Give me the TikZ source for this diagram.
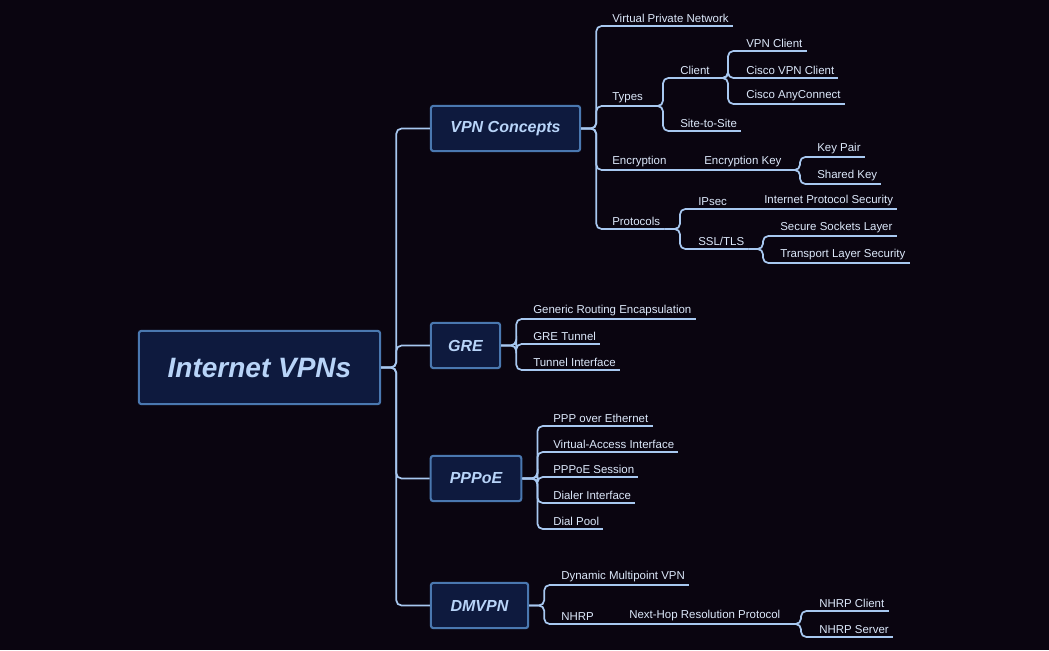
\documentclass[tikz,border=0pt]{standalone}
\usepackage{fontspec}
\setmainfont{Liberation Sans}
\definecolor{bg}{HTML}{0A0510}
\definecolor{ln}{HTML}{A8C8F0}
\definecolor{bx}{HTML}{0E1A3E}
\definecolor{bd}{HTML}{4A78B0}
\definecolor{tx}{HTML}{DCE8FA}
\definecolor{bt}{HTML}{B8D4F8}
\begin{document}
\begin{tikzpicture}[x=0.75pt,y=-0.75pt,
  conn/.style={draw=ln,line width=1.3pt,rounded corners=4pt},
  leaf/.style={anchor=south west,inner xsep=3pt,inner ysep=2.5pt,text=tx,font=\fontsize{8.6}{10}\selectfont,
    append after command={\pgfextra{\let\mynode\tikzlastnode}(\mynode.south west) edge[conn] (\mynode.south east)}},
  box/.style={draw=bd,fill=bx,line width=1.6pt,rounded corners=2pt,text=bt,font=\bfseries\itshape\fontsize{12}{14}\selectfont,minimum height=34pt}]
\useasboundingbox[fill=bg] (0,0) rectangle (1049,650);
\node[box,minimum width=181pt,minimum height=55pt,font=\bfseries\itshape\fontsize{21}{24}\selectfont] (root) at (259.5,367.5) {Internet VPNs};
\node[box,minimum width=112pt] (vc) at (505.5,128.5) {VPN Concepts};
\node[box,minimum width=52pt] (gre) at (465.5,345.5) {GRE};
\node[box,minimum width=68pt] (pp) at (476,478.5) {PPPoE};
\node[box,minimum width=73pt] (dm) at (479.5,605.5) {DMVPN};
% VPN concepts
\node[leaf] (vpn) at (608,26) {Virtual Private Network};
\node[leaf] (ty) at (608,106) {Types};
\node[leaf] (en) at (608,170) {Encryption};
\node[leaf] (pr) at (608,229) {Protocols};
\node[leaf] (cl) at (676,78) {Client};
\node[leaf] (s2s) at (676,131) {Site-to-Site};
\node[leaf] (vcl) at (742,51) {VPN Client};
\node[leaf] (cvc) at (742,78) {Cisco VPN Client};
\node[leaf] (cac) at (742,104) {Cisco AnyConnect};
\node[leaf] (ek) at (700,170) {Encryption Key};
\node[leaf] (kp) at (813,157) {Key Pair};
\node[leaf] (sk) at (813,184) {Shared Key};
\node[leaf] (ips) at (694,209) {IPsec};
\node[leaf] (ssl) at (694,249) {SSL/TLS};
\node[leaf] (ipsec) at (760,209) {Internet Protocol Security};
\node[leaf] (ssl1) at (776,236) {Secure Sockets Layer};
\node[leaf] (tls) at (776,263) {Transport Layer Security};
% GRE
\node[leaf] (g1) at (529,319) {Generic Routing Encapsulation};
\node[leaf] (g2) at (529,344) {GRE Tunnel};
\node[leaf] (g3) at (529,370) {Tunnel Interface};
% PPPoE
\node[leaf] (p1) at (549,426) {PPP over Ethernet};
\node[leaf] (p2) at (549,452) {Virtual-Access Interface};
\node[leaf] (p3) at (549,477) {PPPoE Session};
\node[leaf] (p4) at (549,503) {Dialer Interface};
\node[leaf] (p5) at (549,529) {Dial Pool};
% DMVPN
\node[leaf] (d1) at (557,585) {Dynamic Multipoint VPN};
\node[leaf] (nh) at (557,624) {NHRP};
\node[leaf] (nhrp) at (625,624) {Next-Hop Resolution Protocol};
\node[leaf] (nc) at (815,611) {NHRP Client};
\node[leaf] (ns) at (815,637) {NHRP Server};
% connectors
\foreach \c in {vc,gre,pp,dm} \draw[conn] (root.east) -- ++(15,0) |- (\c.west);
\foreach \c in {vpn,ty,en,pr} \draw[conn] (vc.east) -- ++(15,0) |- (\c.south west);
\foreach \c in {cl,s2s} \draw[conn] (ty.south east) -- (663,106) |- (\c.south west);
\foreach \c in {vcl,cvc,cac} \draw[conn] (cl.south east) -- (728,78) |- (\c.south west);
\draw[conn] (en.south east) -- (ek.south west);
\foreach \c in {kp,sk} \draw[conn] (ek.south east) -- (800,170) |- (\c.south west);
\foreach \c in {ips,ssl} \draw[conn] (pr.south east) -- (680,229) |- (\c.south west);
\draw[conn] (ips.south east) -- (ipsec.south west);
\foreach \c in {ssl1,tls} \draw[conn] (ssl.south east) -- (763,249) |- (\c.south west);
\foreach \c in {g1,g2,g3} \draw[conn] (gre.east) -- ++(15,0) |- (\c.south west);
\foreach \c in {p1,p2,p3,p4,p5} \draw[conn] (pp.east) -- ++(15,0) |- (\c.south west);
\foreach \c in {d1,nh} \draw[conn] (dm.east) -- ++(15,0) |- (\c.south west);
\draw[conn] (nh.south east) -- (nhrp.south west);
\foreach \c in {nc,ns} \draw[conn] (nhrp.south east) -- (801,624) |- (\c.south west);
\end{tikzpicture}
\end{document}
